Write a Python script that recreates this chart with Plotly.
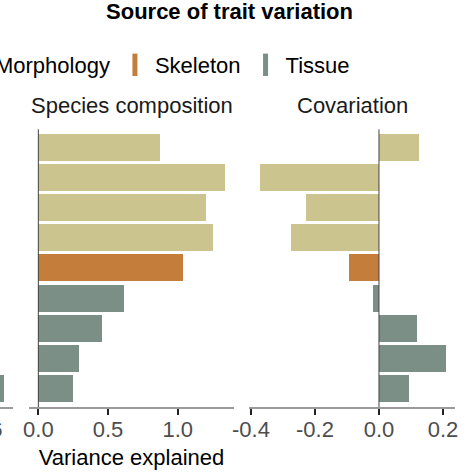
import plotly.graph_objects as go

# ---------------- data ----------------
groups = ["Morphology"] * 4 + ["Skeleton"] + ["Tissue"] * 4
positions = list(range(9))  # trait rows, top to bottom
species_composition = [0.87, 1.34, 1.205, 1.25, 1.035, 0.615, 0.46, 0.29, 0.25]
covariation = [0.125, -0.373, -0.228, -0.276, -0.093, -0.020, 0.118, 0.209, 0.095]
# left panel is cut off in the reference; only its last bar is visible
cut_panel = [None] * 8 + [0.55]

legend_order = ["Morphology", "Skeleton", "Tissue"]
group_colors = {"Morphology": "#CBC48E", "Skeleton": "#C47D3A", "Tissue": "#7B8F87"}

species_ticks = [0.0, 0.5, 1.0]
species_ticktext = ["0.0", "0.5", "1.0"]
cov_ticks = [-0.4, -0.2, 0.0, 0.2]
cov_ticktext = ["-0.4", "-0.2", "0.0", "0.2"]

FONT = "Liberation Sans, Arial, sans-serif"
W = H = 474
T = 90  # top margin in px (plot area starts below the legend)

def px(v):
    return v / W

def py(v):
    # pixel row (from top) -> paper y fraction
    return (H - v) / (H - T)

bar_colors = [group_colors[g] for g in groups]

fig = go.Figure()
for xs, xa in [(cut_panel, "x3"), (species_composition, "x"), (covariation, "x2")]:
    fig.add_trace(go.Bar(
        x=xs, y=positions, orientation="h", xaxis=xa, yaxis="y",
        marker=dict(color=bar_colors, line=dict(width=0)),
        width=0.895, showlegend=False, hoverinfo="skip",
    ))

for g in legend_order:
    fig.add_trace(go.Scatter(
        x=[None], y=[None], mode="markers", name=g,
        marker=dict(symbol="line-ns", size=16, color=group_colors[g],
                    line=dict(width=5, color=group_colors[g])),
        xaxis="x", yaxis="y",
    ))

axis_common = dict(
    showgrid=False, zeroline=False, showline=True, linecolor="#9a9a9a", linewidth=1.5,
    ticklen=6, tickwidth=2.2, tickcolor="#222222", ticklabelstandoff=-4,
    tickfont=dict(family=FONT, size=22, color="#4d4d4d"), anchor="y",
)

fig.update_layout(
    width=W, height=H,
    margin=dict(l=0, r=0, t=T, b=0, autoexpand=False),
    paper_bgcolor="white", plot_bgcolor="white",
    font=dict(family=FONT, size=22, color="black"),
    bargap=0,
    title=dict(text="<b>Source of trait variation</b>", x=px(229.5), xanchor="center",
               y=1 - 11 / H, yanchor="middle", yref="container",
               font=dict(family=FONT, size=22, color="black")),
    xaxis=dict(domain=[px(29), px(234)], range=[-0.067, 1.404], ticks="outside",
               tickvals=species_ticks, ticktext=species_ticktext,
               title=dict(text="Variance explained", standoff=8,
                          font=dict(family=FONT, size=22, color="black")),
               **axis_common),
    xaxis2=dict(domain=[px(249), px(455)], range=[-0.406, 0.2375], ticks="outside",
                tickvals=cov_ticks, ticktext=cov_ticktext, **axis_common),
    xaxis3=dict(domain=[0, px(13)], range=[0.5, 0.66], showticklabels=False, ticks="",
                **axis_common),
    yaxis=dict(domain=[py(407), py(129.3)], range=[8.6, -0.6],
               visible=False, anchor="x"),
    legend=dict(orientation="h", x=-0.095, xanchor="left", y=py(65), yanchor="middle",
                font=dict(family=FONT, size=22, color="black"), bgcolor="rgba(0,0,0,0)",
                traceorder="normal"),
    showlegend=True,
)

for xa in ["x", "x2"]:
    fig.add_shape(type="line", xref=xa, x0=0, x1=0, yref="y domain", y0=0, y1=1,
                  line=dict(color="#444444", width=1), layer="above")

fig.add_annotation(text="Species composition", xref="x domain", x=0.5, yref="paper",
                   y=py(106), yanchor="middle", showarrow=False,
                   font=dict(family=FONT, size=22, color="#1a1a1a"))
fig.add_annotation(text="Covariation", xref="x2 domain", x=0.5, yref="paper",
                   y=py(106), yanchor="middle", showarrow=False,
                   font=dict(family=FONT, size=22, color="#1a1a1a"))
# tick label of the cut-off left panel (only its last digit is visible)
fig.add_annotation(text="0.6", xref="paper", x=px(5), xanchor="right", yref="paper",
                   y=py(429), yanchor="middle", showarrow=False,
                   font=dict(family=FONT, size=22, color="#4d4d4d"))

fig.write_html("out.html")
